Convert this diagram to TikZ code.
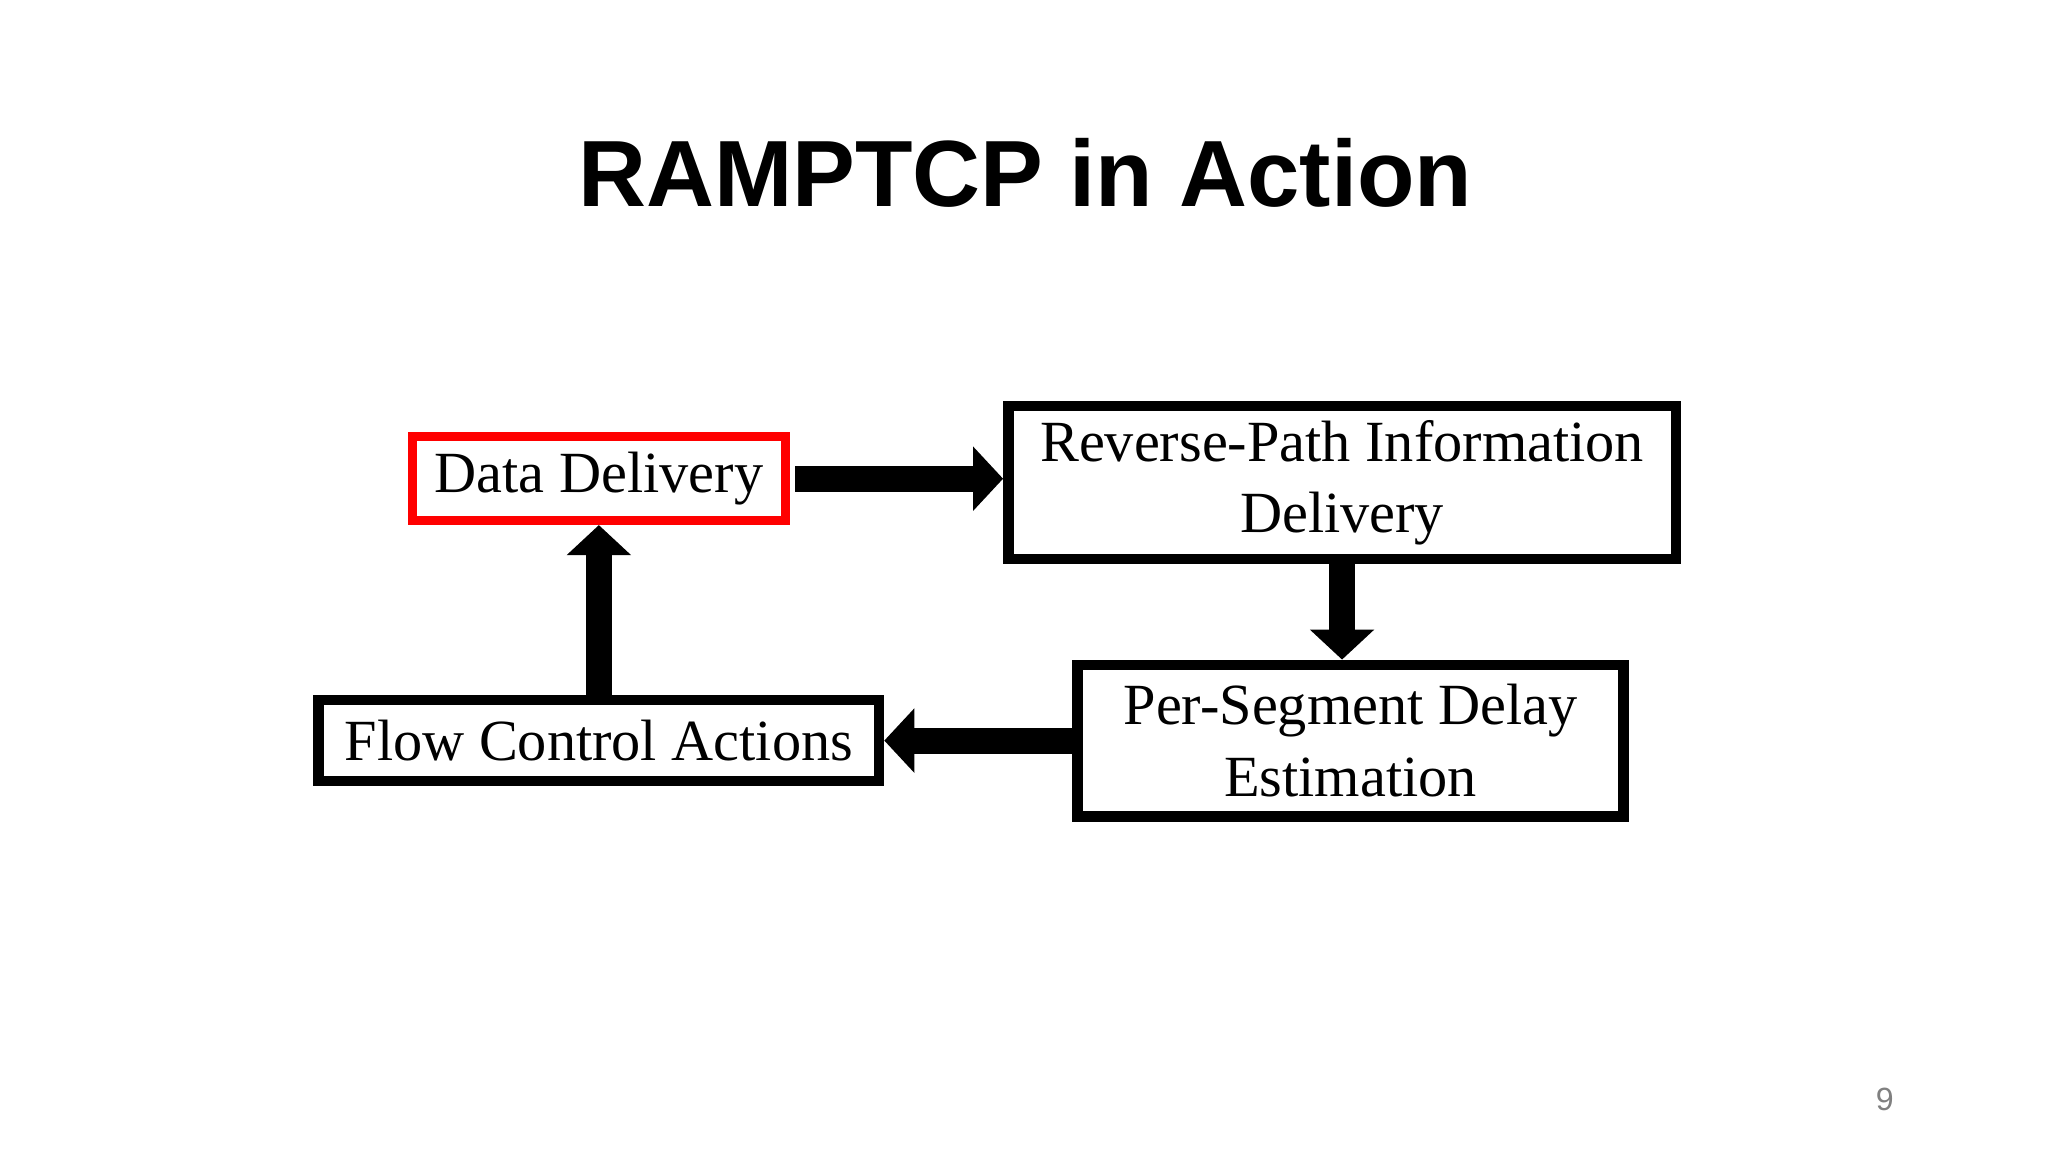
\documentclass[tikz,border=0pt]{standalone}
\usepackage{fontspec}
\setmainfont{Liberation Serif}
\newfontfamily\titlefont{Liberation Sans}
\usetikzlibrary{arrows.meta}
\begin{document}
\begin{tikzpicture}[
  box/.style={draw=black, line width=0.08cm, align=center, inner sep=0pt, font=\fontsize{12.7}{15.5}\selectfont},
  conn/.style={line width=0.2cm, -{Triangle[width=0.48cm,length=0.23cm]}}
]
\useasboundingbox (0,0) rectangle (15.68,8.82);
\node[font=\titlefont\bfseries\fontsize{20.5}{24}\selectfont] (title) at (7.85,7.5) {RAMPTCP in Action};
\node[box, draw=red, line width=0.07cm, minimum width=2.86cm, minimum height=0.64cm] (data) at (4.585,5.155) {Data Delivery};
\node[box, minimum width=5.11cm, minimum height=1.17cm] (rev) at (10.275,5.125) {Reverse-Path Information\\Delivery};
\node[box, minimum width=4.18cm, minimum height=1.16cm] (per) at (10.34,3.15) {Per-Segment Delay\\Estimation};
\node[box, minimum width=4.29cm, minimum height=0.62cm] (flow) at (4.585,3.15) {Flow Control Actions};
\node[text=gray, font=\titlefont\fontsize{7}{8}\selectfont] (pg) at (14.43,0.4) {9};
\draw[conn] ([xshift=0.04cm]data.east) -- (data.east -| rev.west);
\draw[conn] (rev.south) -- (rev.south |- per.north);
\draw[conn] (per.west) -- (per.west -| flow.east);
\draw[conn] (flow.north) -- (flow.north |- data.south);
\end{tikzpicture}
\end{document}
